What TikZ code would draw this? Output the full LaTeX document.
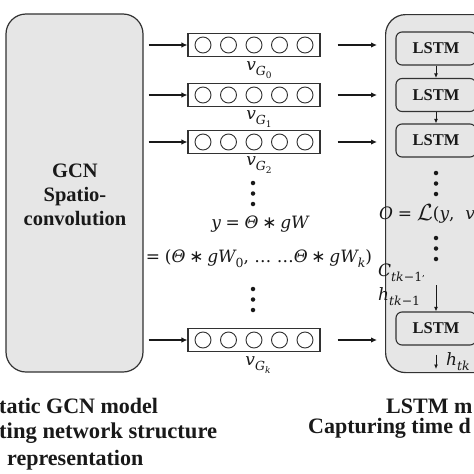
\documentclass[tikz,border=0pt]{standalone}
\usepackage{fontspec}
\setmainfont{Liberation Serif}
\newfontfamily\mf{DejaVu Serif}
\newfontfamily\symf{DejaVu Sans}
\usetikzlibrary{arrows.meta}
\definecolor{boxgray}{RGB}{230,230,230}
\definecolor{linegray}{RGB}{50,50,50}
\definecolor{textc}{RGB}{25,25,25}
\newcommand\mysub[1]{\raisebox{-0.28em}{\fontsize{12.5}{12}\selectfont #1}}
\newcommand\mysubsub[1]{\raisebox{-0.22em}{\fontsize{9}{9}\selectfont #1}}
\newcommand\myast{\hspace{0.22em}{\symf\upshape ∗}\hspace{0.22em}}
\newcommand\myeq{\hspace{0.28em}{\upshape =}\hspace{0.28em}}
\begin{document}
\begin{tikzpicture}[x=1pt,y=-1pt,
  bigbox/.style={draw=linegray, line width=1.2pt, fill=boxgray, rounded corners=20pt, inner sep=0pt},
  lstmbox/.style={draw=linegray, line width=1.1pt, fill=boxgray, rounded corners=6pt, minimum width=80pt, minimum height=33pt, inner sep=0pt, font=\bfseries\fontsize{16.5}{18}\selectfont, text=textc},
  vecbox/.style={draw=linegray, line width=1.1pt, fill=white, minimum width=132pt, minimum height=23pt, inner sep=0pt},
  cell/.style={circle, draw=linegray, line width=0.9pt, minimum size=16pt, inner sep=0pt},
  feed/.style={-{Latex[length=6pt,width=5.5pt]}, line width=1.6pt, draw=textc},
  small/.style={-{Latex[length=4.5pt,width=4pt]}, line width=1pt, draw=textc},
  dot/.style={circle, fill=textc, inner sep=0pt, minimum size=4.5pt},
  mathlbl/.style={text=textc, font=\mf\itshape\fontsize{17}{20}\selectfont, inner sep=0pt},
  caption/.style={text=textc, font=\bfseries\fontsize{22}{26}\selectfont, inner sep=0pt, anchor=west}]
\useasboundingbox (0,0) rectangle (474,474);
\clip (0,0) rectangle (474,474);
\fill[white] (0,0) rectangle (474,474);

% left GCN block
\node[bigbox, minimum width=137pt, minimum height=358pt] (gcn) at (74.5,193) {};
\node[align=center, text=textc, font=\bfseries\fontsize{20.5}{24}\selectfont] (gcntxt) at (75,195) {GCN\\Spatio-\\convolution};

% right LSTM block
\node[bigbox, minimum width=110pt, minimum height=358pt, anchor=north west] (larea) at (385,14) {};
\node[lstmbox] (l0) at (436,48.5) {LSTM};
\node[lstmbox] (l1) at (436,95) {LSTM};
\node[lstmbox] (l2) at (436,140.5) {LSTM};
\node[lstmbox] (l3) at (436,328.5) {LSTM};
\draw[small] (l0.south) -- (l1.north);
\draw[small] (l1.south) -- (l2.north);

% vector boxes
\foreach \n/\y in {0/45, 1/95, 2/142, 3/340} {
  \node[vecbox] (v\n) at (254,\y) {};
  \foreach \i in {0,...,4} {
    \node[cell] (v\n c\i) at (203+25.5*\i,\y) {};
  }
  \draw[feed, shorten <=5pt] (gcn.east |- v\n.west) -- (v\n.west);
  \draw[feed, shorten <=17pt, shorten >=8pt] (v\n.east) -- (v\n.east -| larea.west);
}
\node[mathlbl] (lv0) at (259,70) {v\mysub{G\mysubsub{\upshape 0}}};
\node[mathlbl] (lv1) at (259,119) {v\mysub{G\mysubsub{\upshape 1}}};
\node[mathlbl] (lv2) at (259,165) {v\mysub{G\mysubsub{\upshape 2}}};
\node[mathlbl] (lv3) at (258,365) {v\mysub{G\mysubsub{k}}};

% dots
\foreach \y [count=\k] in {183,193.5,204} {
  \node[dot] (da\k) at (253,\y) {};
  \node[dot] (db\k) at (253,\y+106) {};
  \node[dot] (dc\k) at (436,\y-10) {};
  \node[dot] (dd\k) at (436,\y+55) {};
}

% equations
\node[mathlbl] (eq1) at (260,224) {y\myeq Θ\myast gW};
\node[mathlbl] (eq2) at (259,259) {{\upshape =\hspace{0.28em}(}Θ\myast gW\mysub{\upshape 0}{\upshape , … …}Θ\myast gW\mysub{k}{\upshape )}};
\node[mathlbl, anchor=west] (eq3) at (379,214) {O\myeq\raisebox{-0.05em}{\scalebox{1.35}{$\mathcal{L}$}}{\upshape (}y{\upshape ,}\ \ v};

% LSTM inputs / outputs
\node[mathlbl, anchor=west] (cin) at (378,273) {C\mysub{tk{\upshape −1}}{\upshape\fontsize{9}{9}\selectfont ,}};
\node[mathlbl, anchor=west] (hinl) at (378,297) {h\mysub{tk{\upshape −1}}};
\coordinate (hin) at (436,285);
\draw[small] (hin) -- (l3.north);
\coordinate (hout) at (436,369);
\draw[small, shorten <=9pt] (l3.south) -- (hout);
\node[mathlbl, anchor=west] (houtl) at (446,362) {h\mysub{tk}};

% captions
\node[caption] (c1) at (-1,406) {tatic GCN model};
\node[caption, font=\bfseries\fontsize{22.6}{26}\selectfont] (c2) at (-1,433) {ting network structure};
\node[caption] (c3) at (7,460) {representation};
\node[caption] (c4) at (386,406) {LSTM m};
\node[caption] (c5) at (308,428) {Capturing time d};
\end{tikzpicture}
\end{document}
